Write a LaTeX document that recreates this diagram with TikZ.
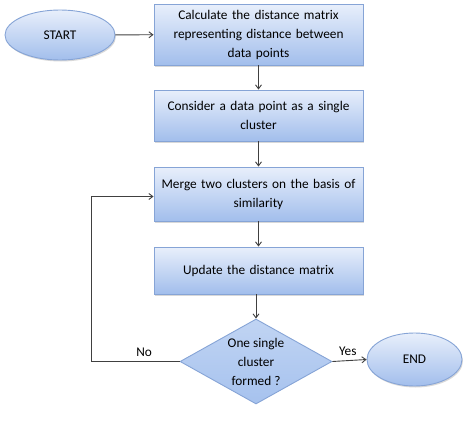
\documentclass[tikz,border=0pt]{standalone}
\usepackage{fontspec}
\setmainfont{Carlito}
\usetikzlibrary{shapes.geometric,arrows.meta,shadows}
\definecolor{bordc}{HTML}{86A4D6}
\definecolor{topc}{HTML}{E8EFFB}
\definecolor{botc}{HTML}{A2BEEC}
\definecolor{decc}{HTML}{A6C2EE}
\begin{document}
\begin{tikzpicture}[x=1pt,y=-1pt,
  font=\fontsize{13.3}{19}\selectfont,
  boxstyle/.style={draw=bordc, line width=0.9pt, top color=topc, bottom color=botc, minimum width=209pt, minimum height=#1, text width=205pt, align=center, inner sep=0pt, drop shadow={shadow xshift=1pt, shadow yshift=-1.5pt, fill=gray!60}},
  ovalstyle/.style={ellipse, draw=bordc, line width=0.9pt, top color=topc, bottom color=botc, inner sep=0pt, drop shadow={shadow xshift=1pt, shadow yshift=-1.5pt, fill=gray!60}},
  decstyle/.style={diamond, draw=bordc, line width=0.9pt, top color=decc!70!white, bottom color=decc, minimum width=152pt, minimum height=85pt, aspect=1.79, inner sep=0pt, align=center},
  conn/.style={draw=black!75, line width=0.9pt, -{Straight Barb[length=4pt,width=6pt]}},
  plain/.style={draw=black!75, line width=0.9pt}
]
\useasboundingbox (0,0) rectangle (474,423);
\node[ovalstyle, minimum width=110pt, minimum height=50pt] (start) at (60,35) {START};
\node[boxstyle=61pt] (b1) at (258.5,34.5) {Calculate the distance matrix\\representing distance between\\data points};
\node[boxstyle=51pt] (b2) at (258.5,115.5) {Consider a data point as a single\\cluster};
\node[boxstyle=54pt] (b3) at (258.5,194) {Merge two clusters on the basis of\\similarity};
\node[boxstyle=47pt] (b4) at (258.5,270.5) {Update the distance matrix};
\node[decstyle] (d) at (256,361.5) {One single\\cluster\\formed ?};
\node[ovalstyle, minimum width=95pt, minimum height=53pt] (end) at (414.5,359.5) {END};
\coordinate (l1) at (91,361.5);
\coordinate (l2) at (91,196.5);
\draw[conn] (start) -- (b1);
\draw[conn] (b1) -- (b2);
\draw[conn] (b2) -- (b3);
\draw[conn] (b3) -- (b4);
\draw[conn] (b4.south -| d.north) -- (d.north);
\draw[conn] (d.east) -- node[above, pos=0.45, yshift=1pt] (yes) {Yes} (end.west);
\draw[plain] (d.west) -- node[above, pos=0.4, yshift=1pt] (no) {No} (l1) -- (l2);
\draw[conn] (l2) -- (l2 -| b3.west);
\end{tikzpicture}
\end{document}
